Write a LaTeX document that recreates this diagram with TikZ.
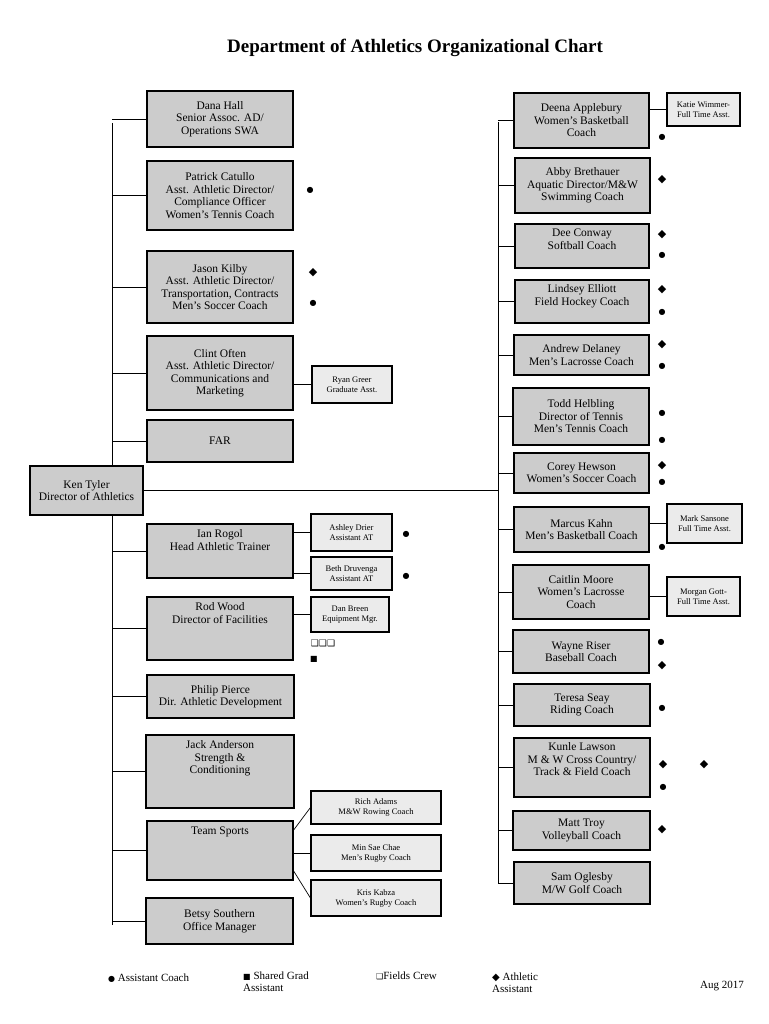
\documentclass[tikz,border=0pt]{standalone}
\usepackage{fontspec}
\setmainfont{Liberation Serif}
\newfontfamily\sym{DejaVu Sans}
\begin{document}
\begin{tikzpicture}[x=1pt,y=-1pt,
 box/.style={draw,line width=1.3pt,fill=black!20,align=center,inner sep=1pt,font=\fontsize{11.5}{12.5}\selectfont},
 sbox/.style={draw,line width=1.1pt,fill=black!8,align=center,inner sep=1pt,font=\fontsize{8.5}{10}\selectfont},
 ln/.style={line width=0.7pt},
 dot/.style={font=\sym\fontsize{8}{8}\selectfont,inner sep=0pt},
 dia/.style={font=\sym\fontsize{11}{11}\selectfont,inner sep=0pt},
 leg/.style={font=\fontsize{11}{12}\selectfont,align=left,anchor=west,inner sep=0pt}]
\useasboundingbox (0,0) rectangle (768,1024);
\newcommand\B[7][box]{\node[#1,minimum width=#4-#2,minimum height=#5-#3] (#6) at ({(#2+#4)/2},{(#3+#5)/2}) {#7};}
\newcommand\T[2]{\parbox[t][#1pt][t]{128pt}{\centering\vspace*{3pt} #2}}
\node[font=\bfseries\fontsize{19}{20}\selectfont] (title) at (415,48) {Department of Athletics Organizational Chart};
% trunks
\coordinate (lt) at (112,123); \coordinate (lb) at (112,925);
\coordinate (rt) at (498,122); \coordinate (rb) at (498,883);
\draw[ln] (lt) -- (lb); \draw[ln] (rt) -- (rb);
% left boxes
\B{147}{91}{293}{147}{dana}{Dana Hall\\Senior Assoc. AD/\\Operations SWA}
\B{147}{161}{293}{230}{pat}{Patrick Catullo\\Asst. Athletic Director/\\Compliance Officer\\Women's Tennis Coach}
\B{147}{251}{293}{323}{jas}{Jason Kilby\\Asst. Athletic Director/\\Transportation, Contracts\\Men's Soccer Coach}
\B{147}{336}{293}{410}{cli}{Clint Often\\Asst. Athletic Director/\\Communications and\\Marketing}
\B{147}{420}{293}{462}{far}{FAR}
\B{147}{524}{293}{578}{ian}{\T{48}{Ian Rogol\\Head Athletic Trainer}}
\B{147}{597}{293}{660}{rod}{\T{57}{Rod Wood\\Director of Facilities}}
\B{147}{675}{294}{718}{phi}{Philip Pierce\\Dir. Athletic Development}
\B{146}{735}{294}{808}{jac}{\T{67}{Jack Anderson\\Strength \&\\Conditioning}}
\B{147}{821}{293}{880}{tea}{\T{53}{Team Sports}}
\B{146}{898}{293}{944}{bet}{Betsy Southern\\Office Manager}
\foreach \n in {dana,pat,jas,cli,far,ian,rod,phi,jac,tea,bet}{\draw[ln] (lt|-\n.west) -- (\n.west);}
\B{30}{466}{143}{515}{ken}{Ken Tyler\\Director of Athletics}
\draw[ln] (ken.east) -- (ken.east-|rt);
% left side boxes
\B[sbox]{312}{366}{392}{403}{rya}{Ryan Greer\\Graduate Asst.}
\B[sbox]{311}{514}{392}{551}{ash}{Ashley Drier\\Assistant AT}
\B[sbox]{311}{557}{392}{590}{bdr}{Beth Druvenga\\Assistant AT}
\B[sbox]{311}{597}{389}{632}{dan}{Dan Breen\\Equipment Mgr.}
\B[sbox]{311}{791}{441}{824}{ric}{Rich Adams\\M\&W Rowing Coach}
\B[sbox]{311}{835}{441}{871}{min}{Min Sae Chae\\Men's Rugby Coach}
\B[sbox]{311}{880}{441}{916}{kri}{Kris Kabza\\Women's Rugby Coach}
\draw[ln] (cli.east|-rya.west) -- (rya.west);
\draw[ln] (ian.east|-ash.west) -- (ash.west);
\draw[ln] (ian.east|-bdr.west) -- (bdr.west);
\draw[ln] (rod.east|-dan.west) -- (dan.west);
\draw[ln] (tea.east|-0,830) -- (ric.west);
\draw[ln] (tea.east|-min.west) -- (min.west);
\draw[ln] (tea.east|-0,871) -- (kri.west);
% right boxes
\B{514}{93}{649}{148}{dee}{Deena Applebury\\Women's Basketball\\Coach}
\B{515}{158}{650}{213}{abb}{Abby Brethauer\\Aquatic Director/M\&W\\Swimming Coach}
\B{515}{224}{649}{268}{dco}{\T{40}{Dee Conway\\Softball Coach}}
\B{515}{280}{649}{323}{lin}{\T{39}{Lindsey Elliott\\Field Hockey Coach}}
\B{514}{335}{649}{375}{and}{Andrew Delaney\\Men's Lacrosse Coach}
\B{513}{388}{649}{445}{tod}{Todd Helbling\\Director of Tennis\\Men's Tennis Coach}
\B{514}{453}{649}{493}{cor}{Corey Hewson\\Women's Soccer Coach}
\B{514}{507}{649}{552}{mar}{Marcus Kahn\\Men's Basketball Coach}
\B{513}{565}{649}{619}{cai}{Caitlin Moore\\Women's Lacrosse\\Coach}
\B{513}{630}{649}{673}{way}{Wayne Riser\\Baseball Coach}
\B{514}{684}{650}{726}{ter}{Teresa Seay\\Riding Coach}
\B{514}{738}{650}{797}{kun}{\T{55}{Kunle Lawson\\M \& W Cross Country/\\Track \& Field Coach}}
\B{513}{811}{650}{850}{mat}{Matt Troy\\Volleyball Coach}
\B{514}{862}{650}{904}{sam}{Sam Oglesby\\M/W Golf Coach}
\foreach \n in {dee,abb,dco,lin,and,tod,cor,mar,cai,way,ter,kun,mat,sam}{\draw[ln] (rt|-\n.west) -- (\n.west);}
\B[sbox]{667}{93}{740}{126}{kat}{Katie Wimmer-\\Full Time Asst.}
\B[sbox]{667}{504}{742}{543}{mrk}{Mark Sansone\\Full Time Asst.}
\B[sbox]{667}{577}{740}{616}{mor}{Morgan Gott-\\Full Time Asst.}
\draw[ln] (dee.east|-kat.west) -- (kat.west);
\draw[ln] (mar.east|-mrk.west) -- (mrk.west);
\draw[ln] (cai.east|-mor.west) -- (mor.west);
% markers
\foreach \x/\y [count=\i] in {310/190,313/303,406/534,406/576,662/137,662/255,662/312,662/366,662/413,662/440,662/482,662/547,661/642,662/708,663/787}{\node[dot] (c\i) at (\x,\y) {●};}
\foreach \x/\y [count=\i] in {313/273,662/180,662/235,662/290,662/345,662/466,662/666,663/765,704/765,662/830}{\node[dia] (d\i) at (\x,\y) {◆};}
\node[font=\sym\fontsize{9}{9}\selectfont,inner sep=0pt] (fc) at (323,643) {❑❑❑};
\node[dot] (sq) at (314,659) {■};
% legend
\node[leg] (l1) at (108,978) {{\sym\fontsize{8}{8}\selectfont●} Assistant Coach};
\node[leg] (l2) at (243,982) {{\sym\fontsize{8}{8}\selectfont■} Shared Grad\\Assistant};
\node[leg] (l3) at (376,976) {{\sym\fontsize{8}{8}\selectfont❑}Fields Crew};
\node[leg] (l4) at (492,983) {{\sym\fontsize{10}{10}\selectfont◆} Athletic\\Assistant};
\node[leg] (l5) at (700,986) {Aug 2017};
\end{tikzpicture}
\end{document}
